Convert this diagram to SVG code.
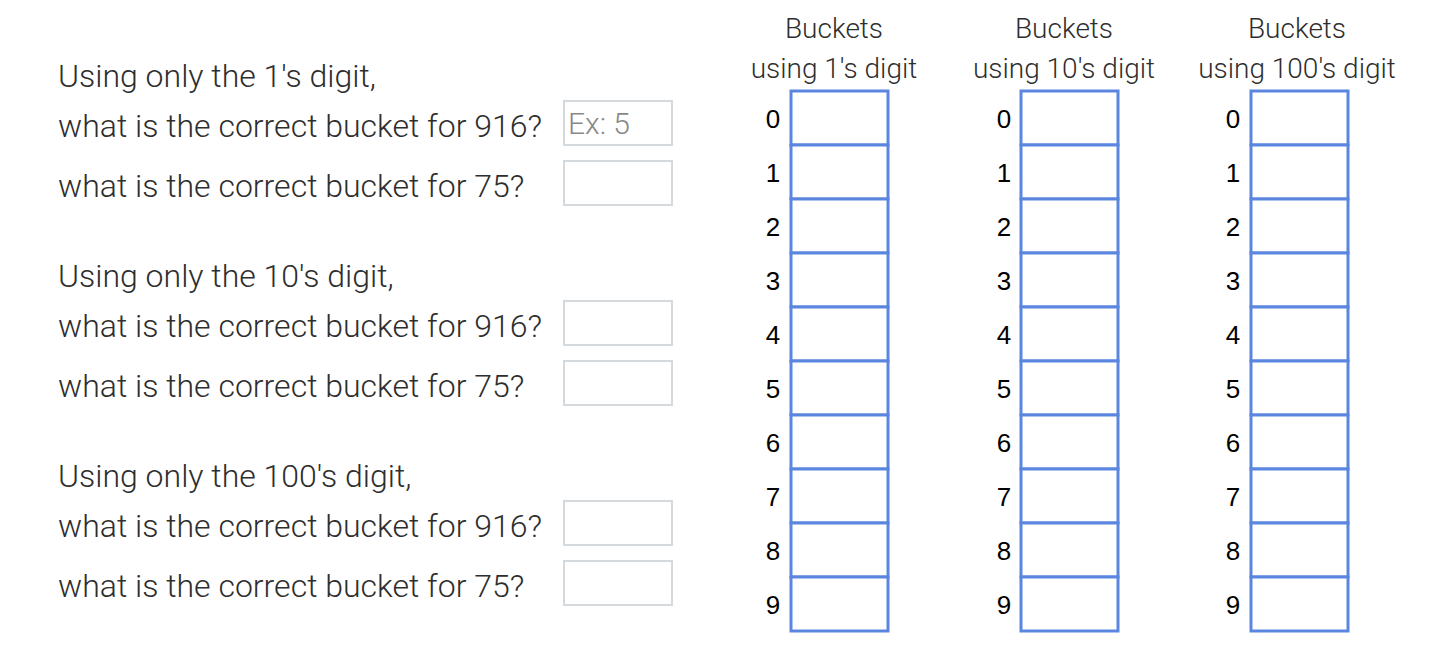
<svg xmlns="http://www.w3.org/2000/svg" width="1432" height="648" viewBox="0 0 1432 648">
<style>
.q{font-family:Roboto,"Liberation Sans",sans-serif;font-weight:300;font-size:32px;fill:#2e2e2e}
.h{font-family:Roboto,"Liberation Sans",sans-serif;font-weight:300;font-size:28px;fill:#2e2e2e;text-anchor:middle}
.d{font-family:"Liberation Sans",Arial,sans-serif;font-size:26px;fill:#000;text-anchor:middle}
.in{fill:#fff;stroke:#d3d9dc;stroke-width:2}
.ph{font-family:Roboto,"Liberation Sans",sans-serif;font-weight:300;font-size:30px;fill:#888}
.c{fill:#fff;stroke:#5b86e0;stroke-width:3}
</style>
<rect width="1432" height="648" fill="#fff"/>
<g id="questions">
<text class="q" x="58" y="87">Using only the 1's digit,</text>
<text class="q" x="58" y="137">what is the correct bucket for 916?</text>
<text class="q" x="58" y="197">what is the correct bucket for 75?</text>
<text class="q" x="58" y="287">Using only the 10's digit,</text>
<text class="q" x="58" y="337">what is the correct bucket for 916?</text>
<text class="q" x="58" y="397">what is the correct bucket for 75?</text>
<text class="q" x="58" y="487">Using only the 100's digit,</text>
<text class="q" x="58" y="537">what is the correct bucket for 916?</text>
<text class="q" x="58" y="597">what is the correct bucket for 75?</text>
</g>
<g id="inputs">
<rect class="in" x="564" y="101" width="108" height="44"/>
<text class="ph" x="568" y="134">Ex: 5</text>
<rect class="in" x="564" y="161" width="108" height="44"/>
<rect class="in" x="564" y="301" width="108" height="44"/>
<rect class="in" x="564" y="361" width="108" height="44"/>
<rect class="in" x="564" y="501" width="108" height="44"/>
<rect class="in" x="564" y="561" width="108" height="44"/>
</g>
<g id="col1">
<text class="h" x="834" y="38">Buckets</text>
<text class="h" x="834" y="78">using 1's digit</text>
<rect class="c" x="791" y="91" width="97" height="54"/>
<rect class="c" x="791" y="145" width="97" height="54"/>
<rect class="c" x="791" y="199" width="97" height="54"/>
<rect class="c" x="791" y="253" width="97" height="54"/>
<rect class="c" x="791" y="307" width="97" height="54"/>
<rect class="c" x="791" y="361" width="97" height="54"/>
<rect class="c" x="791" y="415" width="97" height="54"/>
<rect class="c" x="791" y="469" width="97" height="54"/>
<rect class="c" x="791" y="523" width="97" height="54"/>
<rect class="c" x="791" y="577" width="97" height="54"/>
<text class="d" x="773" y="128">0</text>
<text class="d" x="773" y="182">1</text>
<text class="d" x="773" y="236">2</text>
<text class="d" x="773" y="290">3</text>
<text class="d" x="773" y="344">4</text>
<text class="d" x="773" y="398">5</text>
<text class="d" x="773" y="452">6</text>
<text class="d" x="773" y="506">7</text>
<text class="d" x="773" y="560">8</text>
<text class="d" x="773" y="614">9</text>
</g>
<g id="col2">
<text class="h" x="1064" y="38">Buckets</text>
<text class="h" x="1064" y="78">using 10's digit</text>
<rect class="c" x="1021" y="91" width="97" height="54"/>
<rect class="c" x="1021" y="145" width="97" height="54"/>
<rect class="c" x="1021" y="199" width="97" height="54"/>
<rect class="c" x="1021" y="253" width="97" height="54"/>
<rect class="c" x="1021" y="307" width="97" height="54"/>
<rect class="c" x="1021" y="361" width="97" height="54"/>
<rect class="c" x="1021" y="415" width="97" height="54"/>
<rect class="c" x="1021" y="469" width="97" height="54"/>
<rect class="c" x="1021" y="523" width="97" height="54"/>
<rect class="c" x="1021" y="577" width="97" height="54"/>
<text class="d" x="1004" y="128">0</text>
<text class="d" x="1004" y="182">1</text>
<text class="d" x="1004" y="236">2</text>
<text class="d" x="1004" y="290">3</text>
<text class="d" x="1004" y="344">4</text>
<text class="d" x="1004" y="398">5</text>
<text class="d" x="1004" y="452">6</text>
<text class="d" x="1004" y="506">7</text>
<text class="d" x="1004" y="560">8</text>
<text class="d" x="1004" y="614">9</text>
</g>
<g id="col3">
<text class="h" x="1297" y="38">Buckets</text>
<text class="h" x="1297" y="78">using 100's digit</text>
<rect class="c" x="1251" y="91" width="97" height="54"/>
<rect class="c" x="1251" y="145" width="97" height="54"/>
<rect class="c" x="1251" y="199" width="97" height="54"/>
<rect class="c" x="1251" y="253" width="97" height="54"/>
<rect class="c" x="1251" y="307" width="97" height="54"/>
<rect class="c" x="1251" y="361" width="97" height="54"/>
<rect class="c" x="1251" y="415" width="97" height="54"/>
<rect class="c" x="1251" y="469" width="97" height="54"/>
<rect class="c" x="1251" y="523" width="97" height="54"/>
<rect class="c" x="1251" y="577" width="97" height="54"/>
<text class="d" x="1233" y="128">0</text>
<text class="d" x="1233" y="182">1</text>
<text class="d" x="1233" y="236">2</text>
<text class="d" x="1233" y="290">3</text>
<text class="d" x="1233" y="344">4</text>
<text class="d" x="1233" y="398">5</text>
<text class="d" x="1233" y="452">6</text>
<text class="d" x="1233" y="506">7</text>
<text class="d" x="1233" y="560">8</text>
<text class="d" x="1233" y="614">9</text>
</g>
</svg>
